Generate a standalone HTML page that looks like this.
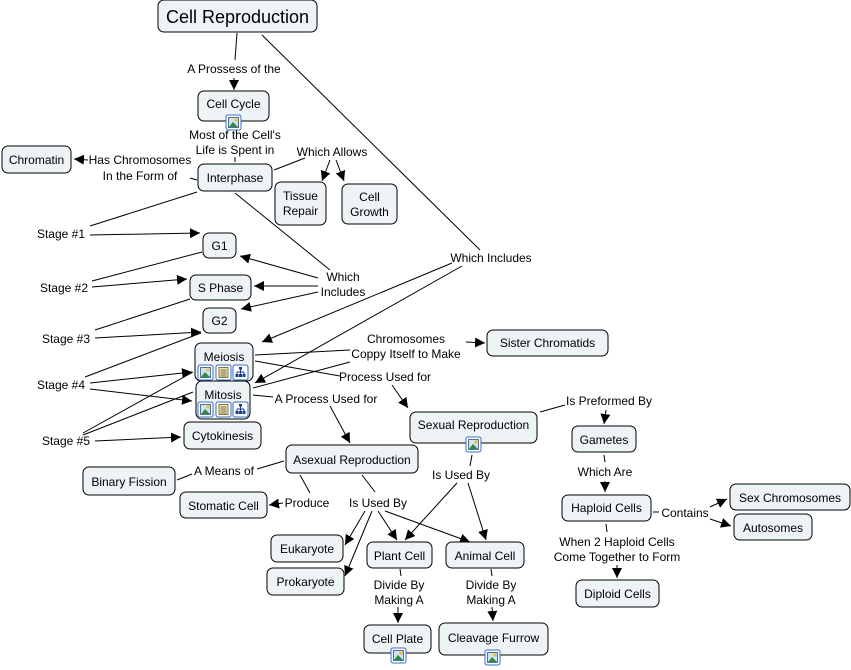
<!DOCTYPE html>
<html><head><meta charset="utf-8"><style>
html,body{margin:0;padding:0;background:#fff}
svg{display:block}
text{font-family:"Liberation Sans",Arial,sans-serif;font-size:12px;fill:#000}
.n{fill:#eef3f6;stroke:#000;stroke-width:1}
.l{stroke:#000;stroke-width:1;fill:none}
.ic{fill:#fff;stroke:#3a6fc0;stroke-width:1}
</style></head><body>
<svg width="851" height="670" viewBox="0 0 851 670" xmlns="http://www.w3.org/2000/svg">
<defs>
<marker id="a" viewBox="0 0 10 10" refX="10" refY="5" markerWidth="10" markerHeight="10" markerUnits="userSpaceOnUse" orient="auto"><path d="M0,0L10,5L0,10z" fill="#000"/></marker>
<g id="img"><rect class="ic" x="0" y="0" width="15" height="15" rx="2"/><rect x="2.5" y="2.5" width="10" height="10" fill="#cfe3f5" stroke="#2a4f8f" stroke-width="0.8"/><path d="M3,12L7,7L12,12z" fill="#2f8a3a"/><circle cx="10" cy="5" r="1.6" fill="#f0c020"/></g>
<g id="doc"><rect class="ic" x="0" y="0" width="15" height="15" rx="2"/><rect x="3" y="2.5" width="9" height="10" fill="#f5e7a8" stroke="#6a5a20" stroke-width="0.8"/><path d="M4.5,5h6M4.5,7h6M4.5,9h6M4.5,11h6" stroke="#444" stroke-width="0.7"/></g>
<g id="map"><rect class="ic" x="0" y="0" width="15" height="15" rx="2"/><path d="M7.5,3v3M4,7h7M4,7v2M11,7v2M7.5,6v3" stroke="#1a3a8a" stroke-width="1" fill="none"/><rect x="6" y="2" width="3" height="2.5" fill="#1a3a8a"/><rect x="2.5" y="9" width="3" height="3" fill="#1a3a8a"/><rect x="6" y="9" width="3" height="3" fill="#1a3a8a"/><rect x="9.5" y="9" width="3" height="3" fill="#1a3a8a"/></g>
</defs>

<!-- connectors -->
<g class="l">
<path d="M237,33L235,60"/><path d="M234,78L234,90" marker-end="url(#a)"/>
<path d="M262,35L480,250"/>
<path d="M452,263L262,342" marker-end="url(#a)"/>
<path d="M462,266L255,383" marker-end="url(#a)"/>
<path d="M235,157L235,162"/>
<path d="M197,180L190,178"/><path d="M88,160L74,159" marker-end="url(#a)"/>
<path d="M274,170L305,158"/>
<path d="M330,160L322,181" marker-end="url(#a)"/><path d="M336,160L344,181" marker-end="url(#a)"/>
<path d="M197,192L90,226"/><path d="M90,235L200,233" marker-end="url(#a)"/>
<path d="M235,193L330,270"/>
<path d="M318,278L240,256" marker-end="url(#a)"/>
<path d="M318,286L254,286" marker-end="url(#a)"/>
<path d="M318,292L241,309" marker-end="url(#a)"/>
<path d="M92,281L202,252"/><path d="M92,287L187,279" marker-end="url(#a)"/>
<path d="M95,330L190,299"/><path d="M95,338L201,332" marker-end="url(#a)"/>
<path d="M85,377L201,333"/>
<path d="M90,383L192,372" marker-end="url(#a)"/>
<path d="M90,389L192,401" marker-end="url(#a)"/>
<path d="M83,433L193,372"/><path d="M83,435L193,392"/>
<path d="M95,441L181,437" marker-end="url(#a)"/>
<path d="M255,355L350,350"/><path d="M466,342L485,343" marker-end="url(#a)"/>
<path d="M253,388L350,362"/>
<path d="M255,361L340,376"/><path d="M392,385L408,408" marker-end="url(#a)"/>
<path d="M253,395L273,397"/><path d="M330,406L350,443" marker-end="url(#a)"/>
<path d="M540,412L565,405"/><path d="M606,410L604,424" marker-end="url(#a)"/>
<path d="M604,455L605,462"/><path d="M605,481L605,492" marker-end="url(#a)"/>
<path d="M653,512L659,512"/><path d="M710,507L727,499" marker-end="url(#a)"/><path d="M710,519L731,526" marker-end="url(#a)"/>
<path d="M606,524L607,532"/><path d="M617,565L617,578" marker-end="url(#a)"/>
<path d="M472,455L470,466"/>
<path d="M457,483L405,540" marker-end="url(#a)"/>
<path d="M468,483L486,540" marker-end="url(#a)"/>
<path d="M177,480L192,474"/><path d="M257,469L284,461"/>
<path d="M300,475L310,493"/><path d="M283,503L269,505" marker-end="url(#a)"/>
<path d="M362,475L375,492"/>
<path d="M365,511L345,545" marker-end="url(#a)"/>
<path d="M372,511L345,576" marker-end="url(#a)"/>
<path d="M378,511L397,540" marker-end="url(#a)"/>
<path d="M385,511L470,542" marker-end="url(#a)"/>
<path d="M400,569L401,576"/><path d="M398,607L398,623" marker-end="url(#a)"/>
<path d="M491,569L492,576"/><path d="M492,607L493,621" marker-end="url(#a)"/>
</g>

<!-- nodes -->
<rect class="n" x="158" y="0" width="159" height="32" rx="6"/><text x="237.5" y="23" text-anchor="middle" style="font-size:18px">Cell Reproduction</text>
<rect class="n" x="198" y="91" width="71" height="30" rx="6"/><text x="233.5" y="108" text-anchor="middle">Cell Cycle</text><use href="#img" x="226" y="115"/>
<rect class="n" x="2" y="146" width="69" height="27" rx="6"/><text x="36.5" y="164" text-anchor="middle">Chromatin</text>
<rect class="n" x="198" y="164" width="74" height="27" rx="6"/><text x="235" y="182" text-anchor="middle">Interphase</text>
<rect class="n" x="275" y="182" width="51" height="43" rx="6"/><text x="300.5" y="200" text-anchor="middle">Tissue</text><text x="300.5" y="215" text-anchor="middle">Repair</text>
<rect class="n" x="342" y="184" width="55" height="40" rx="6"/><text x="369.5" y="201" text-anchor="middle">Cell</text><text x="369.5" y="216" text-anchor="middle">Growth</text>
<rect class="n" x="203" y="233" width="33" height="25" rx="6"/><text x="219.5" y="250" text-anchor="middle">G1</text>
<rect class="n" x="190" y="275" width="61" height="25" rx="6"/><text x="220.5" y="292" text-anchor="middle">S Phase</text>
<rect class="n" x="203" y="308" width="33" height="25" rx="6"/><text x="219.5" y="325" text-anchor="middle">G2</text>
<rect class="n" x="195" y="343" width="58" height="38" rx="6"/><text x="224" y="361" text-anchor="middle">Meiosis</text>
<use href="#img" x="198" y="365"/><use href="#doc" x="216" y="365"/><use href="#map" x="233" y="365"/>
<rect class="n" x="196" y="381" width="54" height="38" rx="6"/><text x="223" y="399" text-anchor="middle">Mitosis</text>
<use href="#img" x="198" y="402"/><use href="#doc" x="216" y="402"/><use href="#map" x="233" y="402"/>
<rect class="n" x="184" y="422" width="77" height="27" rx="6"/><text x="222.5" y="440" text-anchor="middle">Cytokinesis</text>
<rect class="n" x="487" y="330" width="121" height="26" rx="6"/><text x="547.5" y="347" text-anchor="middle">Sister Chromatids</text>
<rect class="n" x="410" y="412" width="127" height="31" rx="6"/><text x="473.5" y="429" text-anchor="middle">Sexual Reproduction</text><use href="#img" x="466" y="437"/>
<rect class="n" x="572" y="426" width="64" height="26" rx="6"/><text x="604" y="444" text-anchor="middle">Gametes</text>
<rect class="n" x="286" y="445" width="132" height="28" rx="6"/><text x="352" y="464" text-anchor="middle">Asexual Reproduction</text>
<rect class="n" x="83" y="467" width="92" height="28" rx="6"/><text x="129" y="486" text-anchor="middle">Binary Fission</text>
<rect class="n" x="180" y="492" width="87" height="26" rx="6"/><text x="223.5" y="510" text-anchor="middle">Stomatic Cell</text>
<rect class="n" x="562" y="495" width="89" height="26" rx="6"/><text x="606.5" y="512" text-anchor="middle">Haploid Cells</text>
<rect class="n" x="730" y="484" width="120" height="26" rx="6"/><text x="790" y="502" text-anchor="middle">Sex Chromosomes</text>
<rect class="n" x="734" y="514" width="78" height="26" rx="6"/><text x="773" y="532" text-anchor="middle">Autosomes</text>
<rect class="n" x="271" y="535" width="72" height="27" rx="6"/><text x="307" y="553" text-anchor="middle">Eukaryote</text>
<rect class="n" x="367" y="542" width="65" height="26" rx="6"/><text x="399.5" y="560" text-anchor="middle">Plant Cell</text>
<rect class="n" x="446" y="542" width="78" height="26" rx="6"/><text x="485" y="560" text-anchor="middle">Animal Cell</text>
<rect class="n" x="267" y="568" width="77" height="27" rx="6"/><text x="305.5" y="586" text-anchor="middle">Prokaryote</text>
<rect class="n" x="576" y="580" width="83" height="27" rx="6"/><text x="617.5" y="598" text-anchor="middle">Diploid Cells</text>
<rect class="n" x="364" y="625" width="67" height="28" rx="6"/><text x="397.5" y="643" text-anchor="middle">Cell Plate</text><use href="#img" x="391" y="648"/>
<rect class="n" x="439" y="623" width="109" height="32" rx="6"/><text x="493.5" y="642" text-anchor="middle">Cleavage Furrow</text><use href="#img" x="485" y="650"/>

<!-- labels -->
<g text-anchor="middle">
<text x="234" y="73">A Prossess of the</text>
<text x="235" y="139">Most of the Cell's</text><text x="235" y="154">Life is Spent in</text>
<text x="140" y="164">Has Chromosomes</text><text x="140" y="180">In the Form of</text>
<text x="332" y="156">Which Allows</text>
<text x="491" y="262">Which Includes</text>
<text x="61" y="238">Stage #1</text>
<text x="64" y="292">Stage #2</text>
<text x="66" y="343">Stage #3</text>
<text x="61" y="389">Stage #4</text>
<text x="66" y="445">Stage #5</text>
<text x="343" y="281">Which</text><text x="343" y="296">Includes</text>
<text x="406" y="343">Chromosomes</text><text x="406" y="358">Coppy Itself to Make</text>
<text x="385" y="381">Process Used for</text>
<text x="326" y="403">A Process Used for</text>
<text x="609" y="405">Is Preformed By</text>
<text x="605" y="476">Which Are</text>
<text x="685" y="517">Contains</text>
<text x="617" y="546">When 2 Haploid Cells</text><text x="617" y="561">Come Together to Form</text>
<text x="224" y="475">A Means of</text>
<text x="307" y="507">Produce</text>
<text x="378" y="507">Is Used By</text>
<text x="461" y="479">Is Used By</text>
<text x="399" y="589">Divide By</text><text x="399" y="604">Making A</text>
<text x="491" y="589">Divide By</text><text x="491" y="604">Making A</text>
</g>
</svg>
</body></html>
